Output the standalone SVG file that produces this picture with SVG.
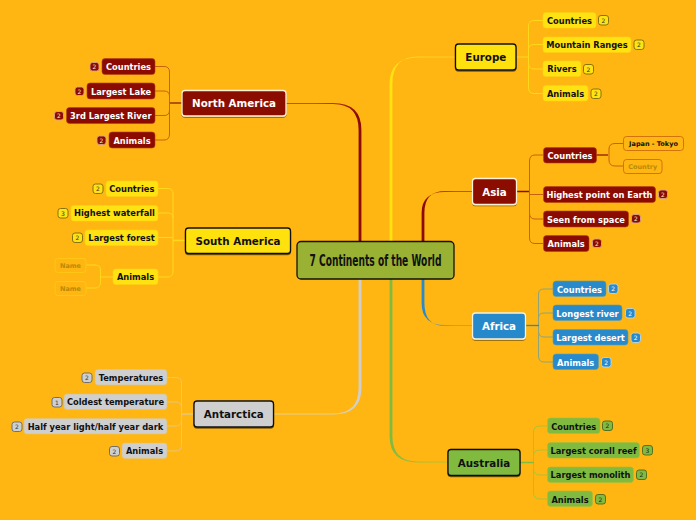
<svg xmlns="http://www.w3.org/2000/svg" width="696" height="520" viewBox="0 0 696 520">
<style>
text{font-family:"DejaVu Sans",sans-serif;font-weight:700;text-anchor:middle}
.m text{font-size:10.300px}.s text{font-size:8.300px}.t text{font-size:6.500px}.b text{font-size:6px;font-weight:400}
.m rect{stroke-width:1.300;filter:url(#sh)}
.s rect,.t rect{rx:3px}
.red rect{fill:#8b0a02}.red text{fill:#fff}
.red.m rect{stroke:#fff2d8}.red.s rect{stroke:#b5420a;stroke-width:.6}
.yel rect{fill:#ffe211}.yel text{fill:#111}
.yel.m rect{stroke:#111}.yel.s rect{stroke:#ffd414;stroke-width:.6}
.gry rect{fill:#cfcfcf}.gry text{fill:#111}
.gry.m rect{stroke:#111}.gry.s rect{stroke:#e2c272;stroke-width:.6}
.blu rect{fill:#2889cb}.blu text{fill:#fff}
.blu.m rect{stroke:#fff2d8}.blu.s rect{stroke:#5f9db0;stroke-width:.6}
.grn rect{fill:#80bb40}.grn text{fill:#111}
.grn.m rect{stroke:#111}.grn.s rect{stroke:#a6bd38;stroke-width:.6}
.b rect{rx:2.500px;stroke-width:.9}
.b.red rect{fill:#8b0a02;stroke:#d9a090}.b.red text{fill:#eec}
.b.yel rect{fill:#ffe211;stroke:#7a6a10}.b.yel text{fill:#333}
.b.gry rect{fill:#cfcfcf;stroke:#666}.b.gry text{fill:#333}
.b.blu rect{fill:#2889cb;stroke:#b8d8e8}.b.blu text{fill:#fff}
.b.grn rect{fill:#80bb40;stroke:#4a6a20}.b.grn text{fill:#222}
#connectors path{fill:none}
#connectors path.tp{stroke:none}
.cr{stroke:#c8620c}.cy{stroke:#ffd81a}.cg{stroke:#e6c67a}.cb{stroke:#8fa478}.cn{stroke:#b4bf30}
</style>
<defs>
<filter id="sh" x="-10%" y="-20%" width="120%" height="150%"><feDropShadow dx="0" dy="1" stdDeviation=".7" flood-color="#000" flood-opacity=".5"/></filter>
<linearGradient id="gna" gradientUnits="userSpaceOnUse" x1="360" y1="130" x2="315" y2="103"><stop offset=".2" stop-color="#8b0a02"/><stop offset="1" stop-color="#c8520a"/></linearGradient>
<linearGradient id="gas" gradientUnits="userSpaceOnUse" x1="423" y1="213" x2="455" y2="191"><stop offset=".2" stop-color="#8b0a02"/><stop offset="1" stop-color="#c8520a"/></linearGradient>
<linearGradient id="gaf" gradientUnits="userSpaceOnUse" x1="423" y1="303" x2="455" y2="325"><stop offset=".2" stop-color="#2889cb"/><stop offset="1" stop-color="#a0a880"/></linearGradient>
<linearGradient id="geu" gradientUnits="userSpaceOnUse" x1="391" y1="84" x2="430" y2="57"><stop offset=".2" stop-color="#ffe211"/><stop offset="1" stop-color="#ffd020"/></linearGradient>
<linearGradient id="gan" gradientUnits="userSpaceOnUse" x1="360" y1="388" x2="320" y2="414"><stop offset=".2" stop-color="#cfcfcf"/><stop offset="1" stop-color="#e8d090"/></linearGradient>
<linearGradient id="gau" gradientUnits="userSpaceOnUse" x1="391" y1="436" x2="430" y2="462"><stop offset=".2" stop-color="#80bb40"/><stop offset="1" stop-color="#b4bf30"/></linearGradient>
</defs>
<rect width="696" height="520" fill="#ffb612"/>
<g id="connectors">
<path class="tp" style="fill:url(#gna)" d="M358.600 242V130Q358.600 104 333 104H286V103H333Q361.400 103 361.400 130V242Z"/>
<path class="tp" style="fill:url(#geu)" d="M389.600 242V84Q389.600 57.500 418 57.500H456V56.500H418Q392.400 56.500 392.400 84V242Z"/>
<path class="tp" style="fill:url(#gan)" d="M358.600 278V388Q358.600 413.500 333 413.500H274V414.500H333Q361.400 414.500 361.400 388V278Z"/>
<path class="tp" style="fill:url(#gau)" d="M389.600 278V436Q389.600 462.500 418 462.500H448V461.500H418Q392.400 461.500 392.400 436V278Z"/>
<path class="tp" style="fill:url(#gas)" d="M421.600 242V213Q421.600 192 445 192H472V191H445Q424.400 191 424.400 213V242Z"/>
<path class="tp" style="fill:url(#gaf)" d="M421.600 278V303Q421.600 325 445 325H473V326H445Q424.400 326 424.400 303V278Z"/>

<g class="cr" stroke-width="1">
<path d="M155 66.500H164Q169.500 66.500 169.500 72V134Q169.500 140 164 140H155M155 91H164Q169.500 91 169.500 96M155 115.500H164Q169.500 115.500 169.500 110"/>
<path d="M170 103H182" stroke="#b04408" stroke-width="1.800"/>
<path d="M517 191.500H530" stroke="#8b0a02" stroke-width="1.500"/>
<path d="M543 155H535Q529.500 155 529.500 161V238Q529.500 243.500 535 243.500H543M529.500 191.500V213Q529.500 219 535 219H543M529.500 194.500H543"/>
<path d="M596 155H608" stroke="#8b0a02" stroke-width="1.200"/>
<path d="M623 143.500H615Q609 143.500 609 149V160Q609 166 615 166H623"/>
</g>
<g class="cy" stroke-width="1">
<path d="M158 188.500H168Q173 188.500 173 194V271Q173 277 168 277H158M158 213H168Q173 213 173 218M158 237.500H173"/>
<path d="M173 240.500H185" stroke-width="1.600"/>
<path d="M113 277H100M86 265H95Q100.500 265 100.500 270V282Q100.500 288 95 288H86"/>
<path d="M516 57H529"/>
<path d="M543 20.500H534Q528.500 20.500 528.500 26V88Q528.500 93.500 534 93.500H543M543 44.500H534Q528.500 44.500 528.500 50M528.500 63Q528.500 69 534 69H543"/>
</g>
<g class="cg" stroke-width="1">
<path d="M167 377.500H176Q181.500 377.500 181.500 383V445Q181.500 451 176 451H167M167 402H176Q181.500 402 181.500 407M167 426H176Q181.500 426 181.500 420"/>
<path d="M182 414H194" stroke-width="1.600"/>
</g>
<g class="cb" stroke-width="1">
<path d="M553 289H544Q538.500 289 538.500 294V356Q538.500 362 544 362H553M553 313H544Q538.500 313 538.500 318M553 337H544Q538.500 337 538.500 331"/>
<path d="M526 325.500H539" stroke="#2889cb" stroke-width="1.300"/>
</g>
<g class="cn" stroke-width="1">
<path d="M547 426H540Q533.500 426 533.500 432V493Q533.500 499 540 499H547M547 450H540Q533.500 450 533.500 456M547 475H540Q533.500 475 533.500 469"/>
<path d="M520 462.500H534" stroke="#80bb40" stroke-width="1.500"/>
</g>
</g>

<g id="root"><rect x="297" y="241.500" width="157" height="37.500" rx="4" fill="#99b233" stroke="#111" stroke-width="1.300"/><text x="375.500" y="266" style="font-size:15px;font-family:'DejaVu Sans Condensed','DejaVu Sans',sans-serif" textLength="132" lengthAdjust="spacingAndGlyphs" fill="#111">7 Continents of the World</text></g>

<g id="north-america" class="m red"><rect x="182" y="90.500" width="104" height="25.500" rx="3"/><text x="234" y="107">North America</text></g>
<g id="na-countries" class="s red"><rect x="102" y="58.500" width="53" height="16"/><text x="128.500" y="70">Countries</text></g>
<g id="na-lake" class="s red"><rect x="87" y="83" width="68" height="16"/><text x="121" y="94.500">Largest Lake</text></g>
<g id="na-river" class="s red"><rect x="66.500" y="107.500" width="88.500" height="16"/><text x="110.800" y="119">3rd Largest River</text></g>
<g id="na-animals" class="s red"><rect x="109" y="132" width="46" height="16"/><text x="132" y="143.500">Animals</text></g>
<g class="b red"><rect x="90" y="62.500" width="9" height="8.500"/><text x="94.500" y="69">2</text></g>
<g class="b red"><rect x="75" y="87" width="9" height="8.500"/><text x="79.500" y="93.500">2</text></g>
<g class="b red"><rect x="54.500" y="111.500" width="9" height="8.500"/><text x="59" y="118">2</text></g>
<g class="b red"><rect x="97" y="136" width="9" height="8.500"/><text x="101.500" y="142.500">2</text></g>

<g id="south-america" class="m yel"><rect x="185.500" y="228" width="105" height="25.500" rx="3"/><text x="238" y="245">South America</text></g>
<g id="sa-countries" class="s yel"><rect x="106" y="181" width="52" height="15.500"/><text x="131.800" y="192">Countries</text></g>
<g id="sa-waterfall" class="s yel"><rect x="71" y="205.500" width="87" height="15.500"/><text x="114.500" y="216">Highest waterfall</text></g>
<g id="sa-forest" class="s yel"><rect x="85" y="230" width="73" height="15.500"/><text x="121.500" y="241">Largest forest</text></g>
<g id="sa-animals" class="s yel"><rect x="113" y="269" width="45" height="15.500"/><text x="135.500" y="280">Animals</text></g>
<g class="b yel"><rect x="93" y="184" width="10" height="9.500"/><text x="98" y="191">2</text></g>
<g class="b yel"><rect x="58" y="208.500" width="10" height="9.500"/><text x="63" y="215.500">3</text></g>
<g class="b yel"><rect x="72.500" y="233" width="10" height="9.500"/><text x="77.500" y="240">2</text></g>
<g id="sa-name1" class="t"><rect x="55" y="258.500" width="31" height="14" fill="#ffb612" stroke="#ffcb14" stroke-width=".8"/><text x="70.500" y="267.800" fill="#b98a06">Name</text></g>
<g id="sa-name2" class="t"><rect x="55" y="281.500" width="31" height="14" fill="#ffb612" stroke="#ffcb14" stroke-width=".8"/><text x="70.500" y="291" fill="#b98a06">Name</text></g>

<g id="antarctica" class="m gry"><rect x="194" y="401" width="79.500" height="26" rx="3"/><text x="233.800" y="418">Antarctica</text></g>
<g id="an-temp" class="s gry"><rect x="95" y="369.500" width="72" height="15.500"/><text x="131" y="381">Temperatures</text></g>
<g id="an-cold" class="s gry"><rect x="64" y="394" width="103" height="15.500"/><text x="115.500" y="405">Coldest temperature</text></g>
<g id="an-half" class="s gry"><rect x="24" y="418.500" width="143" height="15.500"/><text x="95.500" y="429.500">Half year light/half year dark</text></g>
<g id="an-animals" class="s gry"><rect x="122" y="443" width="45" height="15.500"/><text x="144.500" y="454">Animals</text></g>
<g class="b gry"><rect x="82" y="373" width="10" height="9.500"/><text x="87" y="380">2</text></g>
<g class="b gry"><rect x="52" y="397.500" width="10" height="9.500"/><text x="57" y="404.500">1</text></g>
<g class="b gry"><rect x="12" y="422" width="10" height="9.500"/><text x="17" y="429">2</text></g>
<g class="b gry"><rect x="109.500" y="446.500" width="10" height="9.500"/><text x="114.500" y="453.500">2</text></g>

<g id="europe" class="m yel"><rect x="455.500" y="44" width="60.500" height="26" rx="3"/><text x="485.800" y="61">Europe</text></g>
<g id="eu-countries" class="s yel"><rect x="543" y="12.500" width="53" height="15.500"/><text x="569.500" y="23.500">Countries</text></g>
<g id="eu-mountain" class="s yel"><rect x="543" y="37" width="88" height="15.500"/><text x="587" y="48">Mountain Ranges</text></g>
<g id="eu-rivers" class="s yel"><rect x="543" y="61" width="38" height="15.500"/><text x="562" y="72">Rivers</text></g>
<g id="eu-animals" class="s yel"><rect x="543" y="85.500" width="45" height="15.500"/><text x="565.500" y="97">Animals</text></g>
<g class="b yel"><rect x="598.500" y="15.500" width="10" height="9.500"/><text x="603.500" y="22.500">2</text></g>
<g class="b yel"><rect x="634" y="40" width="10" height="9.500"/><text x="639" y="47">2</text></g>
<g class="b yel"><rect x="583.500" y="64.500" width="10" height="9.500"/><text x="588.500" y="71.500">2</text></g>
<g class="b yel"><rect x="591" y="89" width="10" height="9.500"/><text x="596" y="96">2</text></g>

<g id="asia" class="m red"><rect x="472.500" y="178.500" width="44" height="26" rx="3"/><text x="494.500" y="195.500">Asia</text></g>
<g id="as-countries" class="s red"><rect x="543.500" y="147.500" width="53" height="15.500"/><text x="570" y="158.500">Countries</text></g>
<g id="as-highest" class="s red"><rect x="543.500" y="186.500" width="112" height="16"/><text x="599.500" y="198">Highest point on Earth</text></g>
<g id="as-space" class="s red"><rect x="543.500" y="211" width="85" height="16"/><text x="586" y="222.500">Seen from space</text></g>
<g id="as-animals" class="s red"><rect x="543.500" y="235.500" width="45.500" height="16"/><text x="566.200" y="247">Animals</text></g>
<g class="b red"><rect x="658.500" y="190" width="9" height="8.500"/><text x="663" y="196.700">2</text></g>
<g class="b red"><rect x="631.500" y="214.500" width="9" height="8.500"/><text x="636" y="221.200">2</text></g>
<g class="b red"><rect x="592.500" y="239" width="9" height="8.500"/><text x="597" y="245.700">2</text></g>
<g id="as-japan" class="t"><rect x="623.500" y="136.500" width="60" height="14" fill="#ffb612" stroke="#c8620c" stroke-width=".8"/><text x="653.500" y="146" fill="#111">Japan - Tokyo</text></g>
<g id="as-country" class="t"><rect x="623.500" y="159.500" width="38.500" height="14" fill="#ffb612" stroke="#c8620c" stroke-width=".8"/><text x="642.700" y="169" fill="#b98a06">Country</text></g>

<g id="africa" class="m blu"><rect x="472.500" y="313" width="53" height="26" rx="3"/><text x="499" y="330">Africa</text></g>
<g id="af-countries" class="s blu"><rect x="553" y="281" width="53" height="15.500"/><text x="579.500" y="292.500">Countries</text></g>
<g id="af-river" class="s blu"><rect x="553" y="305" width="69" height="15.500"/><text x="587.500" y="316.500">Longest river</text></g>
<g id="af-desert" class="s blu"><rect x="553" y="329.500" width="75" height="15.500"/><text x="590.500" y="341">Largest desert</text></g>
<g id="af-animals" class="s blu"><rect x="553" y="354" width="45.500" height="15.500"/><text x="575.700" y="365.500">Animals</text></g>
<g class="b blu"><rect x="608.500" y="284" width="9.500" height="9.500"/><text x="613.200" y="291">2</text></g>
<g class="b blu"><rect x="625.500" y="308.500" width="9.500" height="9.500"/><text x="630.200" y="315.500">2</text></g>
<g class="b blu"><rect x="631" y="333" width="9.500" height="9.500"/><text x="635.700" y="340">2</text></g>
<g class="b blu"><rect x="601.500" y="357.500" width="9.500" height="9.500"/><text x="606.200" y="364.500">2</text></g>

<g id="australia" class="m grn"><rect x="448" y="449.500" width="72" height="26" rx="3"/><text x="484" y="466.500">Australia</text></g>
<g id="au-countries" class="s grn"><rect x="547.500" y="418" width="52.500" height="15.500"/><text x="573.700" y="429.500">Countries</text></g>
<g id="au-reef" class="s grn"><rect x="547.500" y="442.500" width="92" height="15.500"/><text x="593.500" y="453.500">Largest corall reef</text></g>
<g id="au-monolith" class="s grn"><rect x="547.500" y="467" width="86" height="15.500"/><text x="590.500" y="478">Largest monolith</text></g>
<g id="au-animals" class="s grn"><rect x="547.500" y="491" width="45" height="15.500"/><text x="570" y="502.500">Animals</text></g>
<g class="b grn"><rect x="602.500" y="421" width="10" height="9.500"/><text x="607.500" y="428">2</text></g>
<g class="b grn"><rect x="642.500" y="445.500" width="10" height="9.500"/><text x="647.500" y="452.500">3</text></g>
<g class="b grn"><rect x="636.500" y="470" width="10" height="9.500"/><text x="641.500" y="477">2</text></g>
<g class="b grn"><rect x="595.500" y="494.500" width="10" height="9.500"/><text x="600.500" y="501.500">2</text></g>
</svg>
